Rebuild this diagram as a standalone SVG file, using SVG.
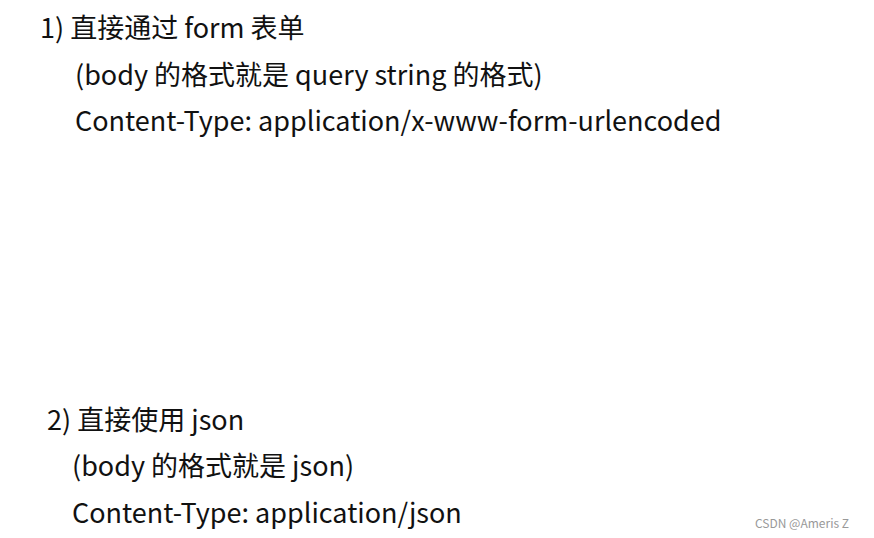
<svg xmlns="http://www.w3.org/2000/svg" width="874" height="538" viewBox="0 0 874 538">
<style>
.t{font-family:"Noto Sans CJK SC","Noto Sans",sans-serif;font-size:27px;fill:#111}
.w{font-family:"Noto Sans CJK SC","Noto Sans",sans-serif;font-size:12px;fill:#999}
</style>
<rect width="874" height="538" fill="#fff"/>
<g id="section1">
<text class="t" x="40" y="38">1) 直接通过 form 表单</text>
<text class="t" x="75" y="85">(body 的格式就是 query string 的格式)</text>
<text class="t" x="75" y="131">Content-Type: application/x-www-form-urlencoded</text>
</g>
<g id="section2">
<text class="t" x="47" y="430">2) 直接使用 json</text>
<text class="t" x="72" y="476">(body 的格式就是 json)</text>
<text class="t" x="72" y="523">Content-Type: application/json</text>
</g>
<g id="connectors"></g>
<text class="w" x="755" y="528">CSDN @Ameris Z</text>
</svg>
